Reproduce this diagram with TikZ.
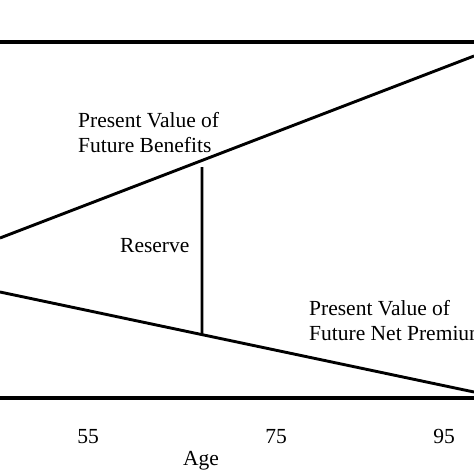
\documentclass[tikz,border=0pt]{standalone}
\usepackage{fontspec}
\setmainfont{Liberation Serif}
\usepackage{tikz}
\usetikzlibrary{calc}
\tikzset{
  axisline/.style={line width=3.8pt,black},
  valueline/.style={line width=2.9pt,black},
  lbl/.style={inner sep=0pt,font=\fontsize{21.5}{25}\selectfont,align=left},
}

\begin{document}
\begin{tikzpicture}[x=1pt,y=-1pt]
  \useasboundingbox (0,0) rectangle (474,474);
  \clip (0,0) rectangle (474,474);
  % Frame
  \coordinate (tl) at (-10,42);
  \coordinate (tr) at (484,42);
  \coordinate (bl) at (-10,398);
  \coordinate (br) at (484,398);
  \draw[axisline] (tl)--(tr);
  \draw[axisline] (bl)--(br);
  % Benefits and premiums
  \coordinate (ben0) at (0,238);
  \coordinate (ben1) at (474,56);
  \coordinate (prem0) at (0,292);
  \coordinate (prem1) at (474,392);
  \draw[valueline] (ben0)--(ben1);
  \draw[valueline] (prem0)--(prem1);
  % Reserve gap
  \coordinate (restop) at (202,167);
  \coordinate (resbot) at ($(prem0)!202/474!(prem1)$);
  \draw[valueline] (restop)--(resbot);
  % Labels (base = last line)
  \node[lbl,anchor=base west] (pvfb) at (78,152) {Present Value of\\Future Benefits};
  \node[lbl,anchor=base west] (reserve) at (120,252) {Reserve};
  \node[lbl,anchor=base west] (pvfp) at (309,340) {Present Value of\\Future Net Premiums};
  % Age axis
  \node[lbl,anchor=base] (a55) at (88,443) {55};
  \node[lbl,anchor=base] (a75) at (276,443) {75};
  \node[lbl,anchor=base] (a95) at (444,443) {95};
  \node[lbl,anchor=base] (age) at (201,465) {Age};
\end{tikzpicture}
\end{document}
